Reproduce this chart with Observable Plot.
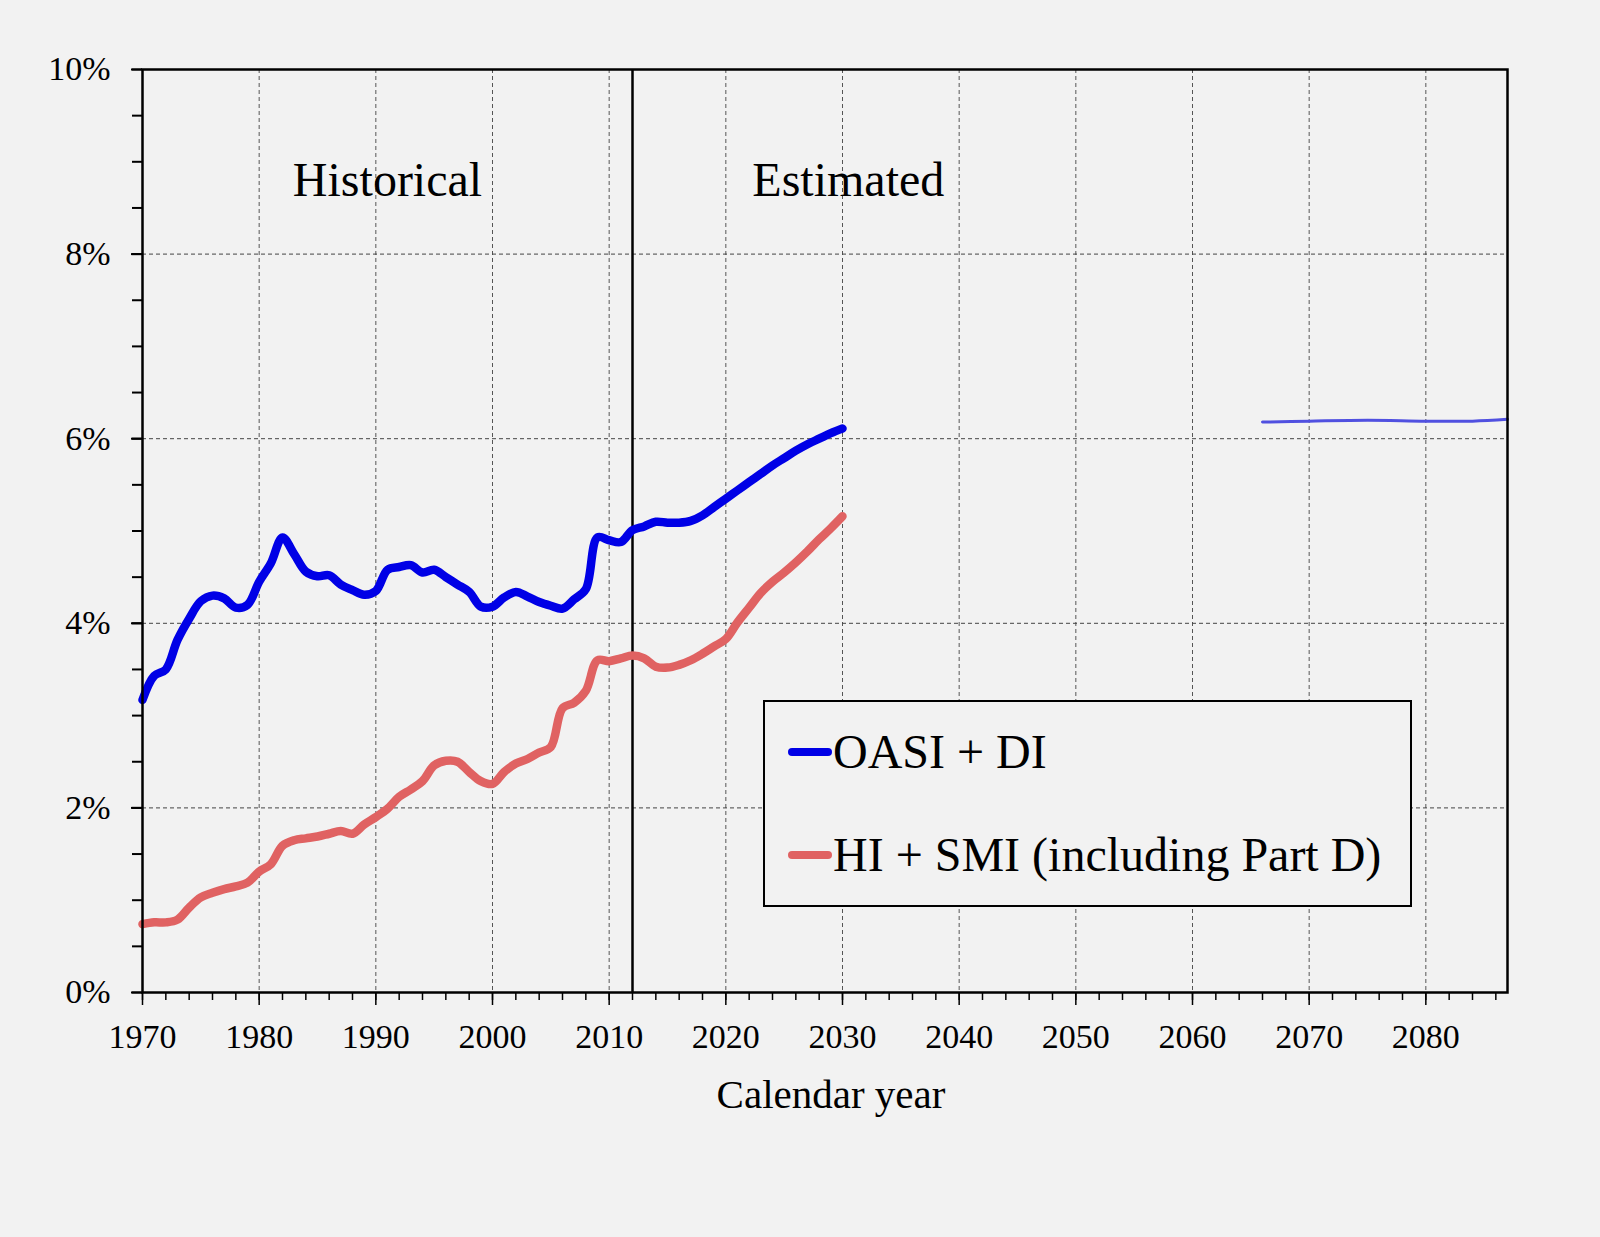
<!DOCTYPE html>
<html><head><meta charset="utf-8">
<script src="https://cdn.jsdelivr.net/npm/d3@7"></script>
<script src="https://cdn.jsdelivr.net/npm/@observablehq/plot@0.6"></script>
<style>
html,body{margin:0;padding:0;background:#f2f2f2;overflow:hidden;}
#wrap{position:relative;width:1600px;height:1237px;}
#legend{position:absolute;left:763px;top:700px;width:645px;height:203px;border:2px solid #000;background:#f2f2f2;font-family:"Liberation Serif","Times New Roman",serif;font-size:48px;color:#000;}
.row{position:absolute;left:23px;height:48px;display:flex;align-items:center;line-height:1;white-space:nowrap;}
.sw{width:44px;height:8px;border-radius:4px;margin-right:1px;}
</style></head>
<body><div id="wrap"><div id="legend"></div></div>
<script>
const years = d3.range(1970, 2031);
const oasiDi = [
  3.17, 3.43, 3.50, 3.82, 4.05, 4.24, 4.30, 4.27, 4.17, 4.20,
  4.45, 4.65, 4.93, 4.75, 4.56, 4.51, 4.52, 4.42, 4.36, 4.31,
  4.35, 4.58, 4.61, 4.63, 4.55, 4.58, 4.50, 4.42, 4.34, 4.18,
  4.18, 4.28, 4.34, 4.29, 4.23, 4.19, 4.16, 4.26, 4.37, 4.93,
  4.90, 4.88, 5.01, 5.05, 5.10, 5.09, 5.09, 5.11, 5.17, 5.26,
  5.35, 5.44, 5.53, 5.62, 5.71, 5.79, 5.87, 5.94, 6.00, 6.06, 6.11
];
const hiSmi = [
  0.74, 0.76, 0.76, 0.79, 0.92, 1.03, 1.08, 1.12, 1.15, 1.19,
  1.31, 1.39, 1.59, 1.65, 1.67, 1.69, 1.72, 1.75, 1.72, 1.82,
  1.90, 1.99, 2.12, 2.20, 2.29, 2.46, 2.51, 2.50, 2.39, 2.29,
  2.26, 2.39, 2.48, 2.53, 2.60, 2.66, 3.08, 3.14, 3.27, 3.60,
  3.59, 3.62, 3.65, 3.62, 3.53, 3.52, 3.55, 3.60, 3.67, 3.75,
  3.83, 4.01, 4.17, 4.33, 4.45, 4.55, 4.66, 4.78, 4.91, 5.03, 5.16
];
// faint remnant of the OASI + DI projection far right
const tailYears = [2066, 2070, 2075, 2080, 2084, 2087];
const tailValues = [6.18, 6.19, 6.20, 6.19, 6.19, 6.21];

const seriesNames = ["OASI + DI", "HI + SMI (including Part D)"];
const seriesColors = ["#0000e6", "#e06262"];
const decadeTicks = d3.range(1970, 2081, 10);
const minorXTicks = d3.range(1970, 2087, 2);
const yLabelTicks = [0, 2, 4, 6, 8, 10];
const minorYTicks = d3.range(0, 10.01, 0.5);
const gridYTicks = [2, 4, 6, 8];
const dividerYear = 2012;
const periodLabels = ["Historical", "Estimated"];

const blue = years.map((y, i) => ({year: y, value: oasiDi[i]}));
const red = years.map((y, i) => ({year: y, value: hiSmi[i]}));
const tail = tailYears.map((y, i) => ({year: y, value: tailValues[i]}));

const font = '"Liberation Serif","Times New Roman",serif';
const chart = Plot.plot({
  width: 1600, height: 1237,
  marginLeft: 142, marginRight: 93, marginTop: 69, marginBottom: 245,
  x: {domain: [1970, 2087], label: null},
  y: {domain: [0, 10], label: null},
  style: {background: "transparent", fontFamily: font, color: "#000"},
  marks: [
    Plot.gridX(decadeTicks, {stroke: "#555", strokeOpacity: 1, strokeDasharray: "4,3", strokeWidth: 1}),
    Plot.gridY(gridYTicks, {stroke: "#444", strokeOpacity: 1, strokeDasharray: "4,3", strokeWidth: 1}),
    Plot.ruleX([dividerYear], {stroke: "#000", strokeWidth: 2.5}),
    Plot.line(red, {x: "year", y: "value", stroke: seriesColors[1], strokeWidth: 8.5, curve: "catmull-rom"}),
    Plot.line(blue, {x: "year", y: "value", stroke: seriesColors[0], strokeWidth: 8.5, curve: "catmull-rom"}),
    Plot.line(tail, {x: "year", y: "value", stroke: "#5050e0", strokeWidth: 3, curve: "catmull-rom"}),
    Plot.frame({stroke: "#000", strokeWidth: 2.5}),
    Plot.axisX(minorXTicks, {tickSize: 8, strokeWidth: 1.5, tickFormat: () => "", label: null}),
    Plot.axisX(decadeTicks, {tickSize: 13, strokeWidth: 1.5, tickPadding: 18, fontSize: 34, tickFormat: d => String(d), label: null}),
    Plot.axisY(minorYTicks, {tickSize: 10, strokeWidth: 2, tickFormat: () => "", label: null}),
    Plot.axisY(yLabelTicks, {tickSize: 11, strokeWidth: 2, tickPadding: 21, fontSize: 34, tickFormat: d => d + "%", label: null}),
    Plot.text(["Calendar year"], {frameAnchor: "bottom", lineAnchor: "middle", dy: 102, dx: 6, fontSize: 41}),
    Plot.text([periodLabels[0]], {x: 1991, y: 8.8, fontSize: 48, lineAnchor: "middle"}),
    Plot.text([periodLabels[1]], {x: 2030.5, y: 8.8, fontSize: 48, lineAnchor: "middle"})
  ]
});
document.getElementById("wrap").prepend(chart);

const legend = document.getElementById("legend");
const rowTops = [26, 129];
seriesNames.forEach((name, i) => {
  const row = document.createElement("div");
  row.className = "row";
  row.style.top = rowTops[i] + "px";
  const sw = document.createElement("span");
  sw.className = "sw";
  sw.style.background = seriesColors[i];
  const t = document.createElement("span");
  t.textContent = name;
  row.append(sw, t);
  legend.append(row);
});
</script>
</body></html>
